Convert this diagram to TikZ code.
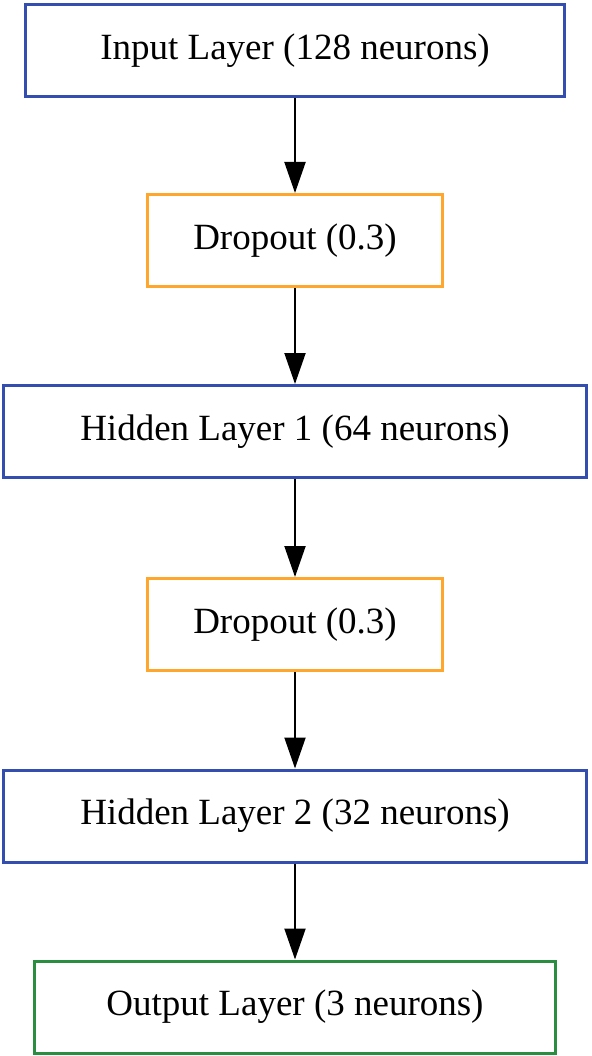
\documentclass[tikz,border=0pt]{standalone}
\usepackage{fontspec}
\setmainfont{Liberation Serif}
\usetikzlibrary{arrows.meta}
\definecolor{layerblue}{RGB}{52,78,175}
\definecolor{droporange}{RGB}{255,166,44}
\definecolor{outgreen}{RGB}{42,142,64}
\tikzstyle{layer}=[rectangle,draw,line width=3pt,fill=white,inner sep=0pt,minimum height=92pt,font=\fontsize{37}{41}\selectfont]
\tikzstyle{flow}=[-{Triangle[length=31pt,width=21pt]},line width=2pt,black]

\begin{document}
\begin{tikzpicture}[x=1pt,y=-1pt]

  \useasboundingbox (0,0) rectangle (591,1056);

  % layers top to bottom
  \foreach \y/\name/\w/\col/\txt in {50.5/in/539/layerblue/Input Layer (128 neurons),
      240.5/dropa/295/droporange/Dropout (0.3),
      431.5/hida/583/layerblue/Hidden Layer 1 (64 neurons),
      624.5/dropb/295/droporange/Dropout (0.3),
      816/hidb/583/layerblue/Hidden Layer 2 (32 neurons),
      1007/out/521/outgreen/Output Layer (3 neurons)}
    \node[layer,draw=\col,minimum width=\w pt] (\name) at (295,\y) {\txt};

  \foreach \source/\dest in {in/dropa, dropa/hida, hida/dropb, dropb/hidb, hidb/out}
    \draw[flow] (\source) -- (\dest);

\end{tikzpicture}
\end{document}
